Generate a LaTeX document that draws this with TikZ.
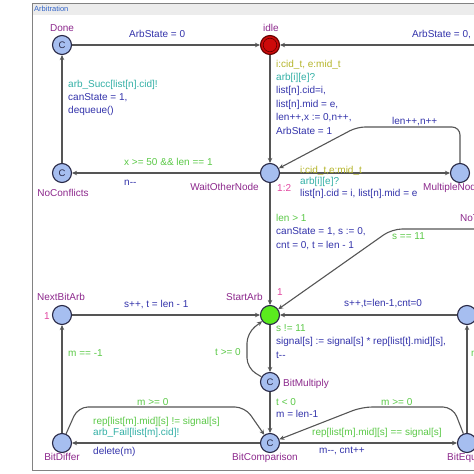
\documentclass[tikz,border=0pt]{standalone}
\usepackage{fontspec}
\setmainfont{Liberation Sans}
\usetikzlibrary{arrows.meta}
\definecolor{locfill}{RGB}{166,190,240}
\definecolor{locline}{RGB}{40,40,70}
\definecolor{namecol}{RGB}{140,40,140}
\definecolor{priocol}{RGB}{225,70,160}
\definecolor{selcol}{RGB}{180,180,40}
\definecolor{guardcol}{RGB}{90,200,70}
\definecolor{synccol}{RGB}{50,175,165}
\definecolor{updcol}{RGB}{50,50,170}
\definecolor{edgecol}{RGB}{85,85,85}
\definecolor{framecol}{RGB}{130,130,130}
\definecolor{titlefill}{RGB}{236,236,236}
\definecolor{titlecol}{RGB}{50,100,200}
\definecolor{idlefill}{RGB}{205,10,10}
\definecolor{idleline}{RGB}{100,0,0}
\definecolor{startfill}{RGB}{90,235,30}
\begin{document}
\begin{tikzpicture}[x=1pt,y=-1pt,
  every node/.style={font=\fontsize{10}{12}\selectfont, inner sep=0pt},
  loc/.style={circle, draw=locline, line width=1.1pt, fill=locfill, minimum size=19pt},
  comm/.style={loc, font=\fontsize{9.5}{11}\selectfont, text=locline},
  idleloc/.style={loc, fill=idlefill, draw=idleline},
  startloc/.style={loc, fill=startfill},
  lab/.style={anchor=base west, yshift=-3.5pt},
  sel/.style={lab, text=selcol},
  grd/.style={lab, text=guardcol},
  syn/.style={lab, text=synccol},
  upd/.style={lab, text=updcol},
  nm/.style={lab, text=namecol},
  nmc/.style={anchor=base, yshift=-3.5pt, text=namecol},
  nme/.style={anchor=base east, yshift=-3.5pt, text=namecol},
  pr/.style={lab, text=priocol},
  edge/.style={draw=edgecol, line width=1.1pt, -{Stealth[length=5pt,width=4.5pt]}},
]
\useasboundingbox (0,0) rectangle (474,474);
% frame
\fill[titlefill] (32,3) rectangle (500,15);
\draw[framecol, line width=0.9pt] (500,3) -- (32,3) -- (32,470) -- (500,470);
\node[anchor=base west, text=titlecol, font=\fontsize{7.5}{9}\selectfont] (title) at (34,11.6) {Arbitration};

% locations
\node[comm] (done) at (62,45) {C};
\node[idleloc] (idle) at (270,45) {};
\draw[idleline, line width=0.6pt] (idle.center) circle (6.8pt);
\node[comm] (nocon) at (62,173) {C};
\node[loc] (wait) at (270,173) {};
\node[loc] (multi) at (460,173) {};
\node[loc] (nextbit) at (62,315) {};
\node[startloc] (start) at (270,315) {};
\node[loc] (rnode) at (467,315) {};
\node[comm] (bitmul) at (270,382) {C};
\node[loc] (bitdiff) at (62,443) {};
\node[comm] (bitcomp) at (270,443) {C};
\node[loc] (biteq) at (467,443) {};
\coordinate (offtop) at (500,45);
\coordinate (offs) at (500,229);

% location names
\node[nmc] (ndone) at (62,28) {Done};
\node[nmc] (nidle) at (271,28) {idle};
\node[nmc] (nnocon) at (63,193) {NoConflicts};
\node[nme] (nwait) at (259,187) {WaitOtherNode};
\node[pr] (pwait) at (277,188) {1:2};
\node[nm] (nmulti) at (423,187) {MultipleNode};
\node[nm] (nnot) at (460,218) {NoT};
\node[nme] (nstart) at (263,297) {StartArb};
\node[pr] (pstart) at (277,292) {1};
\node[nmc] (nnext) at (61,297) {NextBitArb};
\node[pr] (pnext) at (44,316) {1};
\node[nm] (nbitmul) at (283,383) {BitMultiply};
\node[nmc] (nbitcomp) at (265,457) {BitComparison};
\node[nmc] (nbitdiff) at (62,457) {BitDiffer};
\node[nm] (nbiteq) at (447,457) {BitEqual};

% edges
\draw[edge] (done) -- (idle);
\draw[edge] (offtop) -- (idle);
\draw[edge] (idle) -- (wait);
\draw[edge] (nocon) -- (done);
\draw[edge] (wait) -- (nocon);
\draw[edge] (wait) -- (multi);
\draw[edge, rounded corners=8pt] (multi) -- (460,127) -- (357,127) -- (wait);
\draw[edge] (wait) -- (start);
\draw[edge, rounded corners=10pt] (offs) -- (392,229) -- (start);
\draw[edge] (nextbit) -- (start);
\draw[edge] (rnode) -- (start);
\draw[edge] (start) -- (bitmul);
\draw[edge, rounded corners=10pt] (bitmul) -- (247,368) -- (247,333) -- (start);
\draw[edge] (bitmul) -- (bitcomp);
\draw[edge] (bitcomp) -- (bitdiff);
\draw[edge, rounded corners=10pt] (bitdiff) -- (78,407) -- (245,407) -- (bitcomp);
\draw[edge] (bitcomp) -- (biteq);
\draw[edge, rounded corners=10pt] (biteq) -- (453,407) -- (362,407) -- (bitcomp);
\draw[edge] (bitdiff) -- (nextbit);
\draw[edge] (biteq) -- (rnode);

% edge labels
\node[upd] (l1) at (129,34) {ArbState = 0};
\node[upd] (l2) at (412,34) {ArbState = 0, l};
\node[sel] (l3) at (276,64) {i:cid\_t, e:mid\_t};
\node[syn] (l4) at (276,77) {arb[i][e]?};
\node[upd] (l5) at (276,90) {list[n].cid=i,};
\node[upd] (l6) at (276,104) {list[n].mid = e,};
\node[upd] (l7) at (276,117) {len++,x := 0,n++,};
\node[upd] (l8) at (276,131) {ArbState = 1};
\node[syn] (l9) at (68,84) {arb\_Succ[list[n].cid]!};
\node[upd] (l10) at (68,97) {canState = 1,};
\node[upd] (l11) at (68,110) {dequeue()};
\node[grd] (l12) at (124,162) {x >= 50 \&\& len == 1};
\node[upd] (l13) at (124,182) {n-{}-};
\node[sel] (l14) at (300,170) {i:cid\_t,e:mid\_t};
\node[syn] (l15) at (300,181) {arb[i][e]?};
\node[upd] (l16) at (300,193) {list[n].cid = i, list[n].mid = e};
\node[upd] (l17) at (392,121) {len++,n++};
\node[grd] (l18) at (276,218) {len > 1};
\node[upd] (l19) at (276,231) {canState = 1, s := 0,};
\node[upd] (l20) at (276,245) {cnt = 0, t = len - 1};
\node[grd] (l21) at (392,236) {s == 11};
\node[upd] (l22) at (124,304) {s++, t = len - 1};
\node[upd] (l23) at (344,303) {s++,t=len-1,cnt=0};
\node[grd] (l24) at (276,328) {s != 11};
\node[upd] (l25) at (276,341) {signal[s] := signal[s] * rep[list[t].mid][s],};
\node[upd] (l26) at (276,355) {t-{}-};
\node[grd] (l27) at (215,352) {t >= 0};
\node[grd] (l28) at (276,402) {t < 0};
\node[upd] (l29) at (276,414) {m = len-1};
\node[grd] (l30) at (93,421) {rep[list[m].mid][s] != signal[s]};
\node[syn] (l31) at (93,432) {arb\_Fail[list[m].cid]!};
\node[upd] (l32) at (93,451) {delete(m)};
\node[grd] (l33) at (137,402) {m >= 0};
\node[grd] (l34) at (312,432) {rep[list[m].mid][s] == signal[s]};
\node[upd] (l35) at (319,450) {m-{}-, cnt++};
\node[grd] (l36) at (381,402) {m >= 0};
\node[grd] (l37) at (68,353) {m == -1};
\node[grd] (l38) at (471,353) {m};
\end{tikzpicture}
\end{document}
